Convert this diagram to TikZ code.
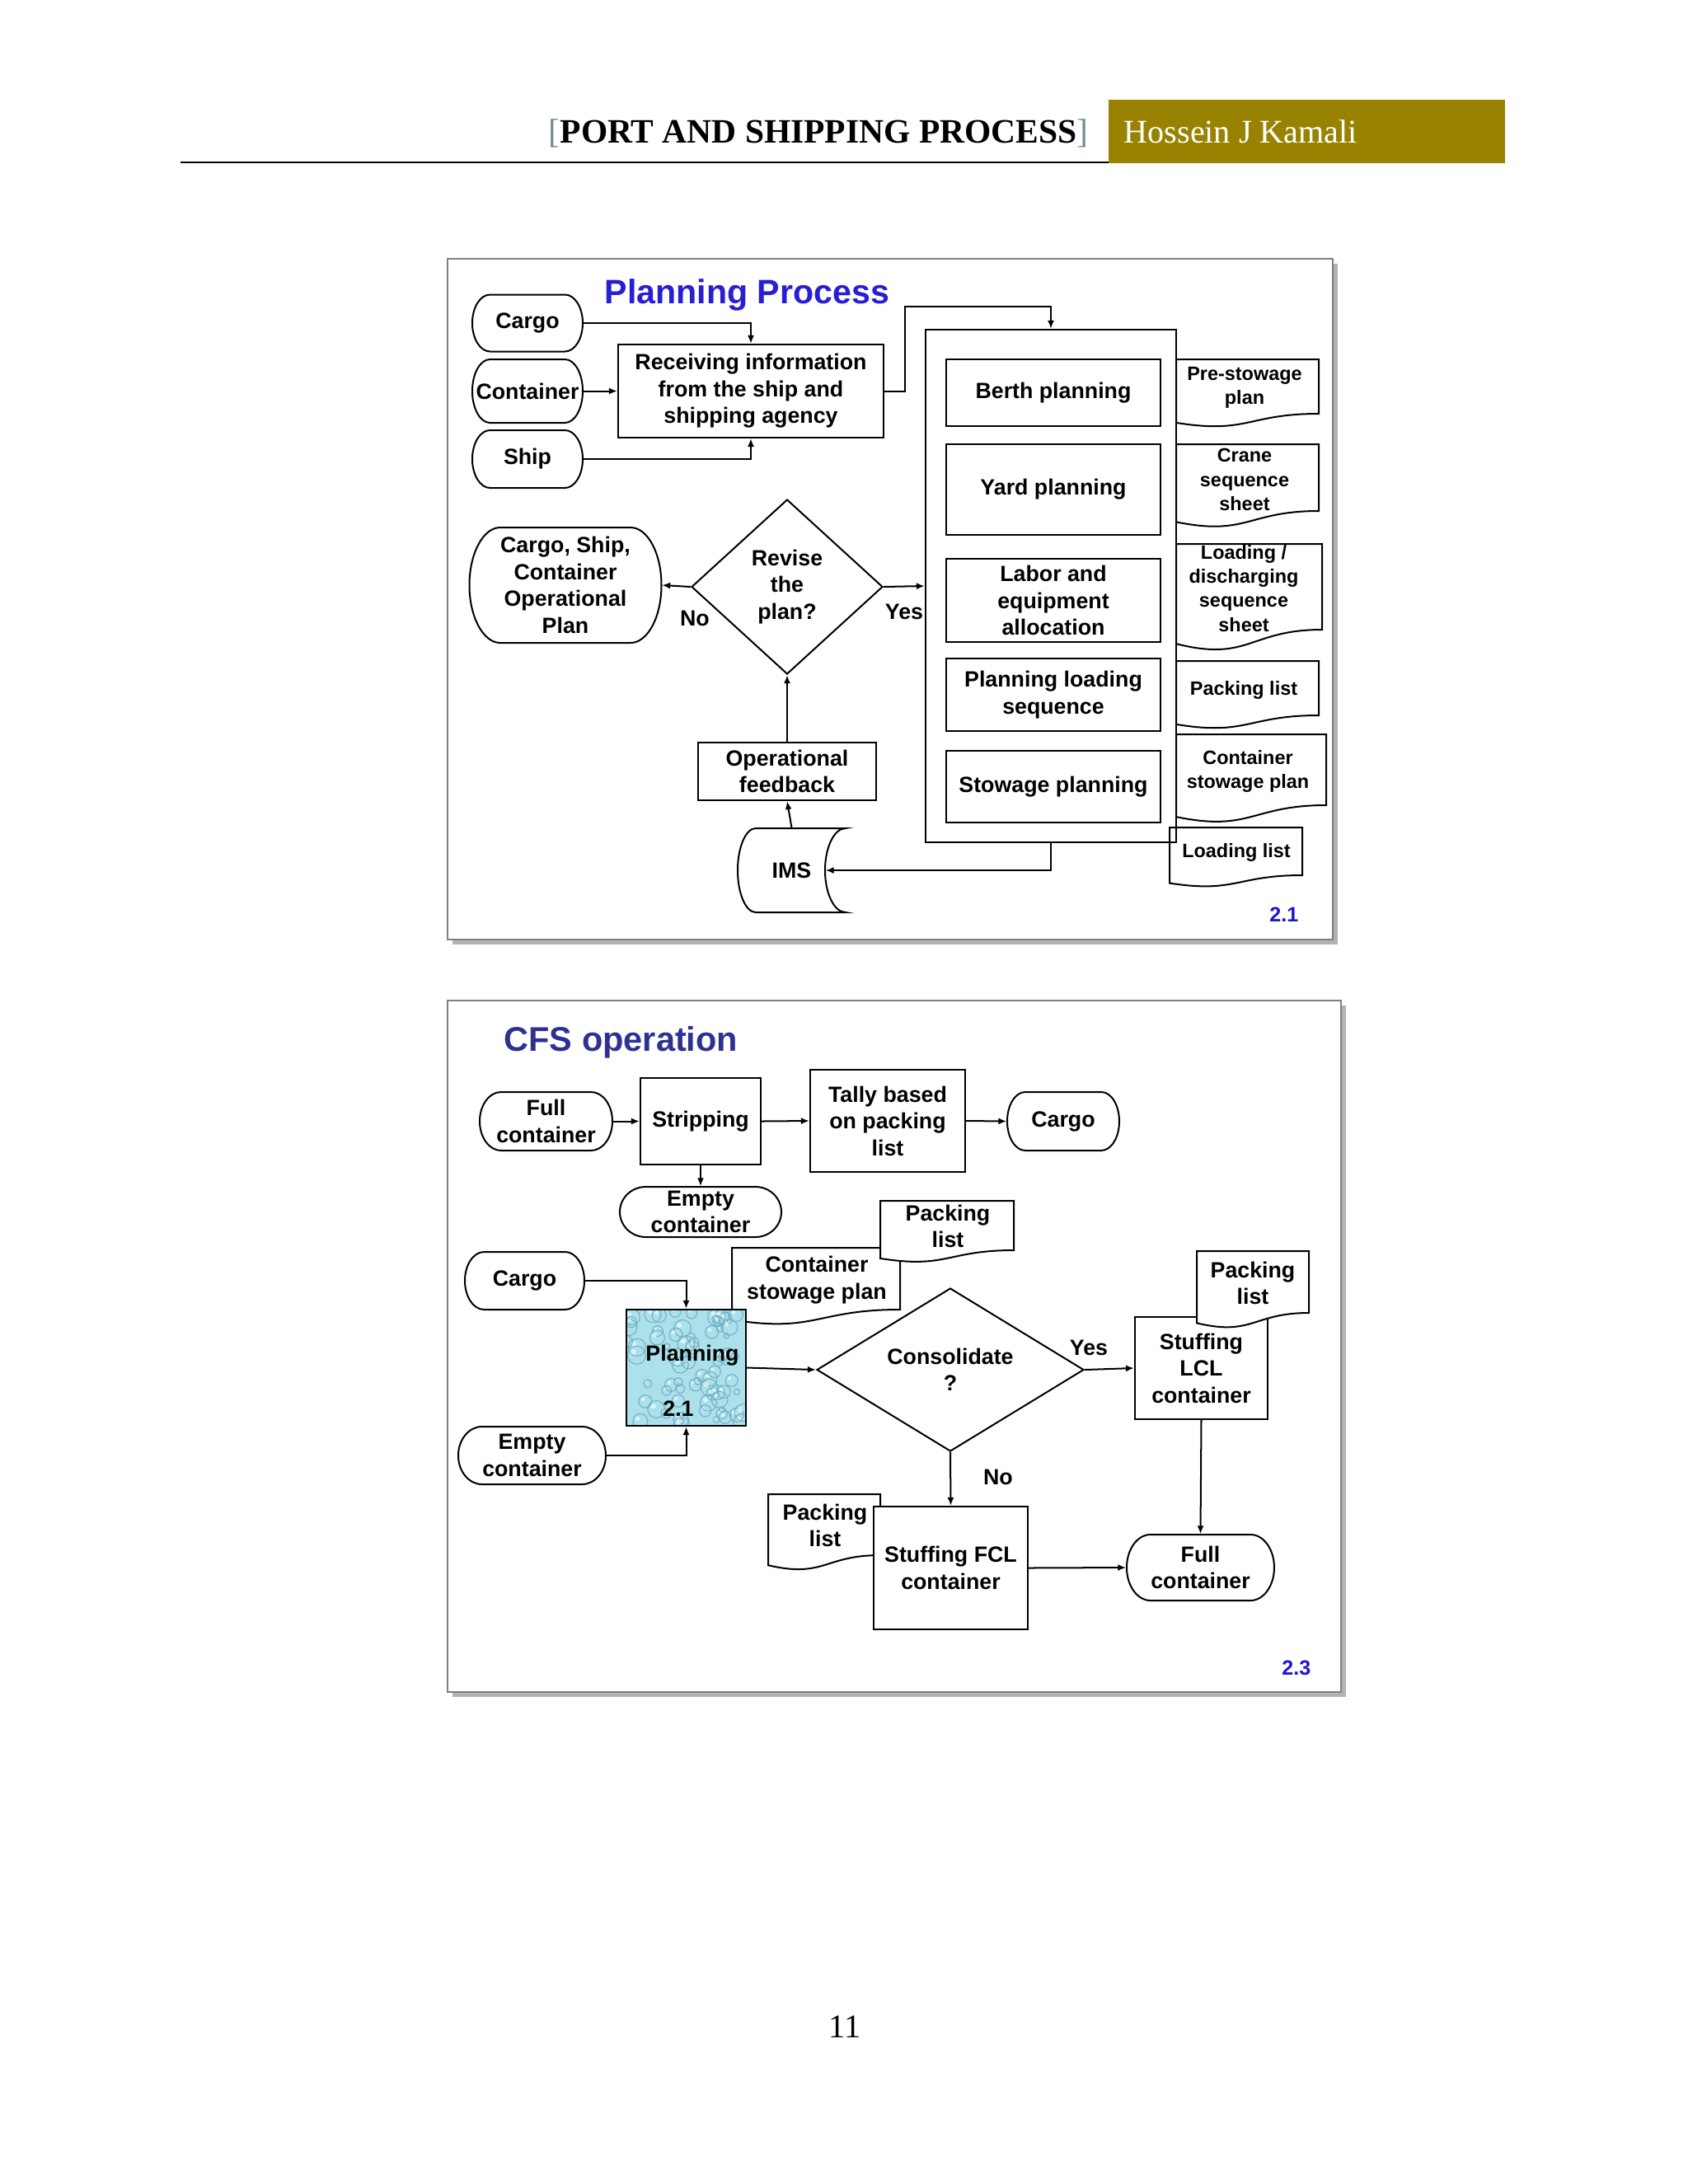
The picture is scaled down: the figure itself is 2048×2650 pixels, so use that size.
\documentclass[tikz,border=0pt]{standalone}
\usepackage{fontspec}
\setsansfont{Liberation Sans}
\newfontfamily\headfont{Liberation Serif}
\usetikzlibrary{shapes.geometric,arrows.meta}

\definecolor{olivebar}{RGB}{152,130,0}
\definecolor{bracketgray}{RGB}{110,140,150}
\definecolor{titleblue}{RGB}{40,30,210}
\definecolor{cfsblue}{RGB}{46,49,146}
\definecolor{numblue}{RGB}{30,20,210}
\definecolor{water}{RGB}{172,224,234}
\definecolor{waterline}{RGB}{110,175,195}

% one pixel of the page
\newcommand\pxu{0.2988pt}

\tikzset{
  procbox/.style={draw, line width=0.6pt, align=center, inner sep=0pt,
    font=\sffamily\bfseries\fontsize{8}{9.7}\selectfont},
  termtext/.style={align=center, inner sep=0pt,
    font=\sffamily\bfseries\fontsize{8}{9.7}\selectfont},
  doctext/.style={align=center, inner sep=0pt,
    font=\sffamily\bfseries\fontsize{7}{8.7}\selectfont},
  decision/.style={diamond, aspect=1.5, draw, line width=0.6pt, align=center, inner sep=0pt,
    font=\sffamily\bfseries\fontsize{8}{9.7}\selectfont},
  lbl/.style={inner sep=0pt, font=\sffamily\bfseries\fontsize{8}{9.7}\selectfont},
  conn/.style={line width=0.6pt, -{Latex[length=3pt,width=2.4pt]}},
}

% terminal: name, x, y, width, height, text
\newcommand\termnode[6]{%
  \node[termtext, minimum width=#4*\pxu, minimum height=#5*\pxu] (#1) at (#2,#3) {#6};
  \draw[line width=0.6pt] ({#2-#4/2+0.161*#4},{#3-#5/2}) -- ({#2+#4/2-0.161*#4},{#3-#5/2})
    arc[start angle=90, end angle=-90, x radius={0.161*#4*\pxu}, y radius={#5/2*\pxu}]
    -- ({#2-#4/2+0.161*#4},{#3+#5/2})
    arc[start angle=270, end angle=90, x radius={0.161*#4*\pxu}, y radius={#5/2*\pxu}] -- cycle;}

% document: left, top, right, bottom of the right side
\newcommand\docshape[4]{%
  \pgfmathsetmacro\dochgt{(#4-#2)/0.802}
  \draw[line width=0.6pt, fill=white] (#3,#4)
    .. controls ({(#1+#3)/2},#4) and ({(#1+#3)/2},{#2+1.107*\dochgt}) .. (#1,{#2+0.934*\dochgt})
    -- (#1,#2) -- (#3,#2) -- cycle;}

\begin{document}
\begin{tikzpicture}[x=0.2988pt, y=-0.2988pt]
\useasboundingbox (0,0) rectangle (2048,2650);

% header
\fill[olivebar] (1345,121) rectangle (1826,198);
\draw[line width=0.8pt] (219,197) -- (1345,197);
\node[anchor=base east, inner sep=0pt, font=\headfont\bfseries\fontsize{12.4}{14}\selectfont] (header) at (1321,173)
  {\textcolor{bracketgray}{\mdseries[}PORT AND SHIPPING PROCESS\textcolor{bracketgray}{\mdseries]}};
\node[anchor=base west, inner sep=0pt, text=white, font=\headfont\fontsize{12}{14}\selectfont] (author) at (1363,173) {Hossein J Kamali};

% ---- planning process ----
\fill[gray!60] (549,320) rectangle (1623,1146);
\draw[gray, line width=0.6pt, fill=white] (543,314) rectangle (1617,1140);
\node[anchor=base west, inner sep=0pt, text=titleblue, font=\sffamily\bfseries\fontsize{12.3}{14}\selectfont] (ptitle) at (733,368) {Planning Process};

\termnode{cargo}{640}{392}{134}{69}{Cargo}
\termnode{container}{640}{474.5}{134}{77}{Container}
\termnode{ship}{640}{557}{134}{70}{Ship}
\node[procbox, minimum width=322*\pxu, minimum height=113*\pxu] (recv) at (911,474.5) {Receiving information\\from the ship and\\shipping agency};

\docshape{1419}{1004}{1580}{1062}
\node[doctext] (loadlist) at (1500,1034) {Loading list};
\node[draw, line width=0.6pt, minimum width=304*\pxu, minimum height=622*\pxu, inner sep=0pt] (stages) at (1275,711) {};
\foreach \nm/\yc/\bh/\txt in {berth/476.5/81/Berth planning, yard/594/110/Yard planning,
    labor/728.5/101/{Labor and\\equipment\\allocation}, loadseq/843/88/{Planning loading\\sequence},
    stowage/954.5/87/Stowage planning}
  \node[procbox, minimum width=260*\pxu, minimum height=\bh*\pxu] (\nm) at (1278,\yc) {\txt};
\foreach \nm/\xl/\yt/\xr/\yb/\cx/\cy/\txt in {prestow/1427/436/1600/502/1510/470/{Pre-stowage\\plan},
    crane/1427/539/1600/620/1510/582/{Crane\\sequence\\sheet},
    loaddis/1427/660/1604/764/1509/714/{Loading /\\discharging\\sequence\\sheet},
    packlist/1427/802/1600/868/1509/837/Packing list,
    cstow/1427/891/1609/977/1514/936/{Container\\stowage plan}} {
  \docshape{\xl}{\yt}{\xr}{\yb}
  \node[doctext] (\nm) at (\cx,\cy) {\txt};
}

\node[decision, minimum width=232*\pxu, minimum height=212*\pxu] (revise) at (955,712) {Revise\\the\\plan?};
\termnode{opplan}{686}{710}{233}{140}{Cargo, Ship,\\Container\\Operational\\Plan}
\node[procbox, minimum width=216*\pxu, minimum height=70*\pxu] (feedback) at (955,936) {Operational\\feedback};
\node[termtext, minimum width=131*\pxu, minimum height=102*\pxu] (ims) at (960.5,1056) {IMS};
\draw[line width=0.6pt] (917,1005) -- (1026,1005)
  arc[start angle=90, end angle=270, x radius=25*\pxu, y radius=51*\pxu] -- (917,1107)
  arc[start angle=270, end angle=90, x radius=22*\pxu, y radius=51*\pxu] -- cycle;
\node[lbl] (no1) at (843,750) {No};
\node[lbl] (yes1) at (1097,742) {Yes};
\node[anchor=base east, inner sep=0pt, text=numblue, font=\sffamily\bfseries\fontsize{7.5}{9}\selectfont] (num1) at (1576,1118) {2.1};

\draw[conn] (cargo.east) -| (recv.north);
\draw[conn] (container.east) -- (recv.west);
\draw[conn] (ship.east) -| (recv.south);
\draw[conn] (recv.east) -- ++(25,0) |- ([yshift=8pt]stages.north) -- (stages.north);
\draw[conn] (revise.west) -- (opplan.east);
\draw[conn] (revise.east) -- (stages.west);
\draw[conn] (feedback.north) -- (revise.south);
\draw[conn] (ims.north) -- (feedback.south);
\draw[conn] (stages.south) |- ([xshift=-7.5pt]ims.east);

% ---- CFS operation ----
\fill[gray!60] (549,1220) rectangle (1633,2059);
\draw[gray, line width=0.6pt, fill=white] (543,1214) rectangle (1627,2053);
\node[anchor=base west, inner sep=0pt, text=cfsblue, font=\sffamily\bfseries\fontsize{12.4}{14}\selectfont] (ctitle) at (611,1275) {CFS operation};

\termnode{fullc}{662.5}{1360.5}{161}{71}{Full\\container}
\node[procbox, minimum width=146*\pxu, minimum height=105*\pxu] (strip) at (850,1360.5) {Stripping};
\node[procbox, minimum width=188*\pxu, minimum height=124*\pxu] (tally) at (1077,1360) {Tally based\\on packing\\list};
\termnode{cargob}{1290}{1360.5}{136}{71}{Cargo}
\termnode{emptya}{850}{1470.5}{196}{61}{Empty\\container}
\termnode{cargoa}{636.5}{1554}{145}{70}{Cargo}
\termnode{emptyb}{645.5}{1766}{179}{70}{Empty\\container}

\node[decision, minimum width=324*\pxu, minimum height=198*\pxu] (consol) at (1153,1662) {Consolidate\\?};
\docshape{888}{1514}{1092}{1589}
\node[termtext] (cstowb) at (991,1553) {Container\\stowage plan};
\docshape{1068}{1457}{1230}{1517}
\node[termtext] (packa) at (1150,1488) {Packing\\list};

% planning box with water drops
\begin{scope}
  \clip (760,1589) rectangle (905,1730);
  \fill[water] (760,1589) rectangle (905,1730);
  \pgfmathsetseed{3}
  \foreach \i in {1,...,70} {
    \pgfmathsetmacro\bx{760+145*rnd}
    \pgfmathsetmacro\by{1589+141*rnd}
    \pgfmathsetmacro\br{3+8*rnd}
    \draw[waterline, line width=0.3pt] (\bx,\by) circle[radius=\br*\pxu];
    \fill[white, opacity=0.6] (\bx-0.35*\br,\by-0.35*\br) circle[radius=0.3*\br*\pxu];
  }
\end{scope}
\node[draw, line width=0.6pt, minimum width=145*\pxu, minimum height=141*\pxu, inner sep=0pt] (pbox) at (832.5,1659.5) {};
\node[lbl] (pname) at (840,1645) {Planning};
\node[lbl] (pnum) at (823,1709) {2.1};

\node[procbox, minimum width=161*\pxu, minimum height=124*\pxu] (lcl) at (1457.5,1660) {Stuffing\\LCL\\container};
\docshape{1452}{1518}{1588}{1593}
\node[termtext] (packb) at (1520,1557) {Packing\\list};
\docshape{932}{1813}{1068}{1887}
\node[termtext] (packc) at (1001,1851) {Packing\\list};
\node[procbox, fill=white, minimum width=187*\pxu, minimum height=149*\pxu] (fcl) at (1153.5,1902.5) {Stuffing FCL\\container};
\termnode{fullb}{1456.5}{1902}{179}{80}{Full\\container}
\node[lbl] (yes2) at (1321,1635) {Yes};
\node[lbl] (no2) at (1211,1792) {No};
\node[anchor=base east, inner sep=0pt, text=numblue, font=\sffamily\bfseries\fontsize{7.5}{9}\selectfont] (num2) at (1591,2032) {2.3};

\draw[conn] (fullc.east) -- (strip.west);
\draw[conn] (strip.east) -- (tally.west);
\draw[conn] (tally.east) -- (cargob.west);
\draw[conn] (strip.south) -- (emptya.north);
\draw[conn] (cargoa.east) -| (pbox.north);
\draw[conn] (emptyb.east) -| (pbox.south);
\draw[conn] (pbox.east) -- (consol.west);
\draw[conn] (consol.east) -- (lcl.west);
\draw[conn] (consol.south) -- (fcl.north);
\draw[conn] (lcl.south) -- (fullb.north);
\draw[conn] (fcl.east) -- (fullb.west);

% page number
\node[anchor=base, inner sep=0pt, font=\headfont\fontsize{12}{14}\selectfont] (pagenum) at (1025,2472) {11};
\end{tikzpicture}
\end{document}
